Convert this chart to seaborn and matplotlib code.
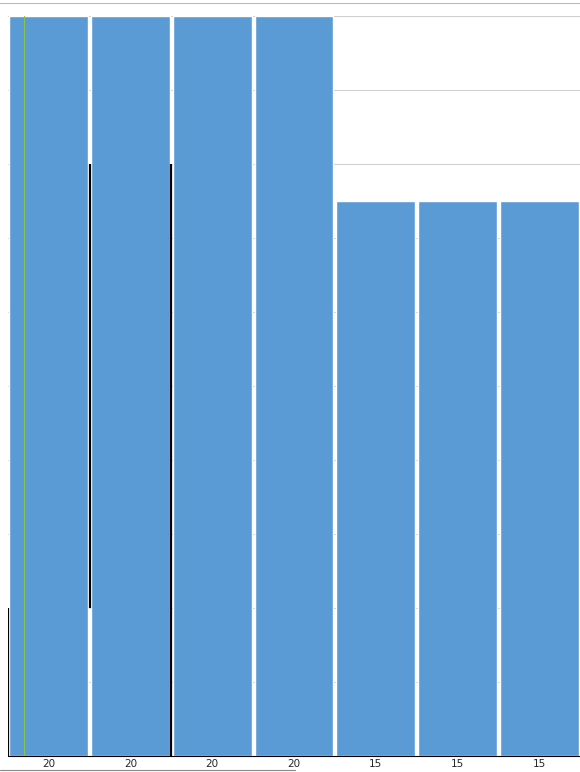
import matplotlib
matplotlib.use("Agg")
import matplotlib.pyplot as plt
import seaborn as sns
import numpy as np
import pandas as pd

categories = ["A", "B", "C", "D", "E", "F", "G"]
values = [20, 20, 20, 20, 15, 15, 15]
labels = ["20", "20", "20", "20", "15", "15", "15"]
# black step-line artefacts: (x boundary, y from, y to)
edge_x = [-0.5, 0.5, 1.5]
edge_lo = [0, 4, 0]
edge_hi = [4, 16, 16]

sns.set_style("white")
plt.rcParams['font.family'] = ['DejaVu Sans']
fig = plt.figure(figsize=(5.8, 7.72), dpi=100)
ax = fig.add_axes([8/580, 16/772, 1 - 8/580, 740/772])
df = pd.DataFrame({"cat": categories, "val": values})
sns.barplot(data=df, x="cat", y="val", color="#5B9BD5", saturation=1,
            width=0.965, ax=ax, zorder=2)
ax.set_xlim(-0.5, 6.5)
ax.set_ylim(0, 20)
ax.set_yticks(np.arange(0, 21, 2))
ax.yaxis.grid(True, color="#D0D0D0", linewidth=0.8, zorder=0)
ax.set_axisbelow(True)
ax.set_yticklabels([])
ax.tick_params(axis="y", length=0)
ax.set_xticks(range(7))
ax.set_xticklabels(labels, fontsize=7.5)
ax.tick_params(axis="x", length=0, pad=2)
ax.set_xticks(np.arange(-0.5, 7, 1), minor=True)
ax.tick_params(axis="x", which="minor", length=12, width=0.8, color="black", direction="out")
ax.set_xlabel(""); ax.set_ylabel("")
for s in ["top", "right", "left"]:
    ax.spines[s].set_visible(False)
ax.spines["bottom"].set_color("black")
ax.spines["bottom"].set_linewidth(0.8)
for x, lo, hi in zip(edge_x, edge_lo, edge_hi):
    ax.vlines(x, lo, hi, color="black", linewidth=1.6, zorder=3)
ax.axvline(-0.5 + 16/82, color="#8BC34A", linewidth=0.8, zorder=4)
fig.add_artist(plt.Line2D([0, 1], [769/772, 769/772], color="#BBBBBB", linewidth=0.8))
fig.add_artist(plt.Line2D([0, 295/580], [2/772, 2/772], color="#888888", linewidth=0.8))
fig.savefig("out.png", dpi=100)
